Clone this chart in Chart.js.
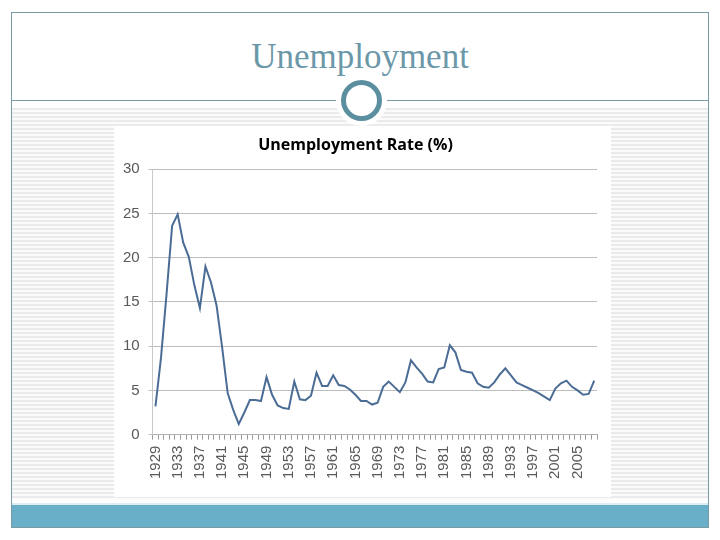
<!DOCTYPE html>
<html>
<head>
<meta charset="utf-8">
<script src="https://cdn.jsdelivr.net/npm/chart.js@4.4.1/dist/chart.umd.min.js"></script>
<style>
  body { margin: 0; background: #fff; width: 720px; height: 540px; overflow: hidden; }
  #slide { position: absolute; left: 11px; top: 12px; width: 696px; height: 514px; border: 1px solid #7a9aa5; background: #fff; }
  #title { position: absolute; left: 0; top: 37px; width: 720px; text-align: center;
           font-family: "Liberation Serif", serif; font-size: 35px; color: #6b98a8; }
  #rule { position: absolute; left: 12px; top: 100px; width: 696px; height: 1px; background: #7a9aa5; }
  #stripes { position: absolute; left: 12px; top: 108px; width: 696px; height: 392px;
             background: repeating-linear-gradient(to bottom, #ebebeb 0px, #ebebeb 2px, #fbfbfb 2px, #fbfbfb 4px); }
  #ring { position: absolute; left: 341px; top: 80px; width: 31px; height: 31px; border-radius: 50%;
          border: 5px solid #5b8fa0; background: #fff; box-shadow: 0 0 0 5px #fff; }
  #bar { position: absolute; left: 12px; top: 503px; width: 696px; height: 24px; background: #6aafc8;
         border-top: 2px solid #dcedf3; box-sizing: border-box; }
  #chart { position: absolute; left: 114px; top: 126px; background: #fff; }
</style>
</head>
<body>
<div id="slide"></div>
<div id="stripes"></div>
<div id="rule"></div>
<div id="ring"></div>
<div id="title">Unemployment</div>
<div id="bar"></div>
<canvas id="chart" width="497" height="371"></canvas>
<script>
var anos = []
for (var a = 1929; a <= 2008; a++) {
    anos.push(String(a))
}

var taxa = [
    3.2, 8.7, 15.9, 23.6, 24.9, 21.7, 20.1, 16.9, 14.3, 19.0,
    17.2, 14.6, 9.9, 4.7, 2.8, 1.2, 2.5, 3.9, 3.9, 3.8,
    6.5, 4.5, 3.3, 3.0, 2.9, 6.0, 4.0, 3.9, 4.4, 7.0,
    5.5, 5.5, 6.7, 5.6, 5.5, 5.1, 4.5, 3.8, 3.8, 3.4,
    3.6, 5.4, 6.0, 5.4, 4.8, 5.9, 8.4, 7.6, 6.9, 6.0,
    5.9, 7.4, 7.6, 10.1, 9.3, 7.3, 7.1, 7.0, 5.8, 5.4,
    5.3, 5.9, 6.8, 7.5, 6.7, 5.9, 5.6, 5.3, 5.0, 4.7,
    4.3, 3.9, 5.2, 5.8, 6.1, 5.4, 5.0, 4.5, 4.6, 6.1
]

var yTicks = [0, 5, 10, 15, 20, 25, 30]

criarGrafico()

function criarGrafico() {
    const ctx = document.getElementById("chart");

    new Chart(ctx, {
        type: "line",
        data: {
            labels: anos,
            datasets: [
                {
                    label: "Unemployment Rate (%)",
                    data: taxa,
                    borderColor: "#4b6c95",
                    borderWidth: 2,
                    pointRadius: 0,
                    tension: 0,
                    fill: false,
                },
            ],
        },
        options: {
            responsive: false,
            animation: false,
            devicePixelRatio: 1,
            layout: {
                padding: { left: 0, right: 14, top: 0, bottom: 12 },
            },
            plugins: {
                legend: { display: false },
                tooltip: { enabled: false },
                title: {
                    display: true,
                    text: "Unemployment Rate (%)",
                    color: "#000",
                    font: { family: "'Open Sans', sans-serif", size: 16, weight: "bold" },
                    padding: { top: 10, bottom: 14 },
                },
            },
            scales: {
                x: {
                    offset: true,
                    afterFit: function (axis) {
                        // os rótulos girados não precisam de folga lateral
                        axis.paddingLeft = 0;
                        axis.paddingRight = 0;
                    },
                    grid: { offset: true, drawOnChartArea: false, tickLength: 5, color: "#9a9a9a" },
                    border: { color: "#b0b0b0" },
                    ticks: {
                        autoSkip: false,
                        minRotation: 90,
                        maxRotation: 90,
                        padding: 6,
                        color: "#595959",
                        font: { family: "'Liberation Sans', sans-serif", size: 15 },
                        callback: function (v, i) {
                            return i % 4 === 0 ? anos[i] : "";
                        },
                    },
                },
                y: {
                    min: 0,
                    max: 30,
                    afterBuildTicks: function (axis) {
                        axis.ticks = yTicks.map(function (v) { return { value: v } });
                    },
                    grid: { color: "#bdbdbd", tickLength: 4 },
                    border: { color: "#c8c8c8" },
                    ticks: {
                        padding: 9,
                        color: "#595959",
                        font: { family: "'Liberation Sans', sans-serif", size: 15 },
                    },
                },
            },
        },
    });
}
</script>
</body>
</html>
